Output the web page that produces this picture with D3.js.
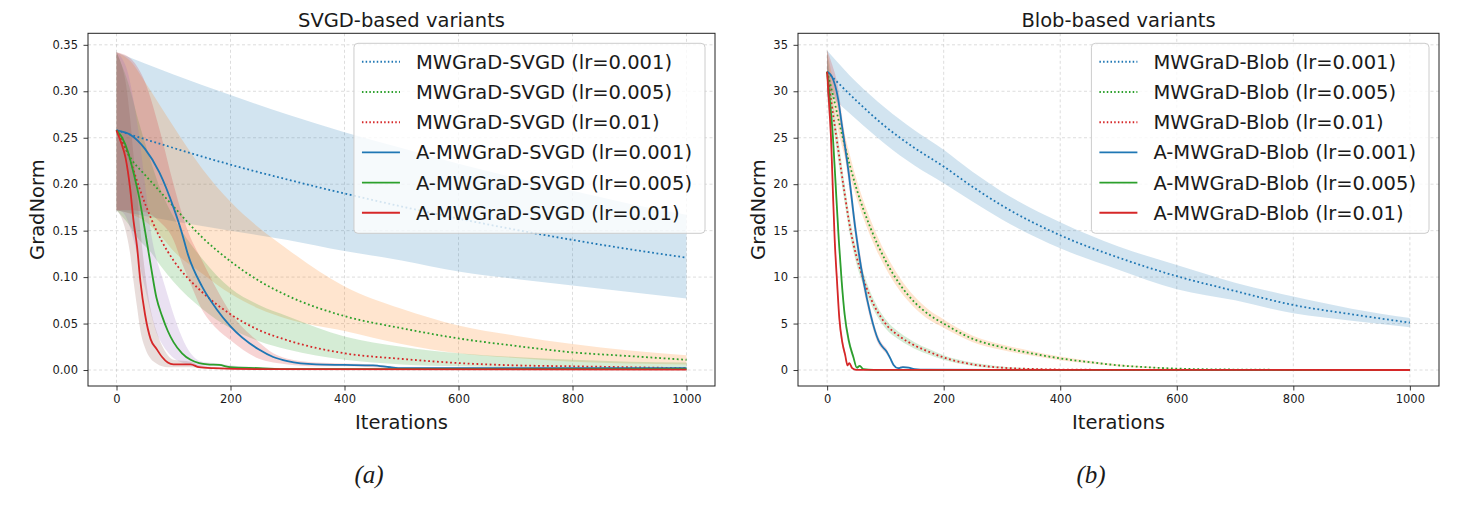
<!DOCTYPE html>
<html>
<head>
<meta charset="utf-8">
<script src="https://cdn.jsdelivr.net/npm/d3@7/dist/d3.min.js"></script>
<style>
body { margin: 0; background: #fff; }
text { font-family: "DejaVu Sans", sans-serif; fill: #1a1a1a; }
</style>
</head>
<body>
<svg id="chart" width="1473" height="515"></svg>
<script>
var iterTicks = [0, 200, 400, 600, 800, 1000];
var svgdTicks = [0, 0.05, 0.10, 0.15, 0.20, 0.25, 0.30, 0.35];
var blobTicks = [0, 5, 10, 15, 20, 25, 30, 35];

var svgdLabels = ["MWGraD-SVGD (lr=0.001)", "MWGraD-SVGD (lr=0.005)", "MWGraD-SVGD (lr=0.01)",
                  "A-MWGraD-SVGD (lr=0.001)", "A-MWGraD-SVGD (lr=0.005)", "A-MWGraD-SVGD (lr=0.01)"];
var blobLabels = ["MWGraD-Blob (lr=0.001)", "MWGraD-Blob (lr=0.005)", "MWGraD-Blob (lr=0.01)",
                  "A-MWGraD-Blob (lr=0.001)", "A-MWGraD-Blob (lr=0.005)", "A-MWGraD-Blob (lr=0.01)"];

// rows: [iteration, mean, lower, upper]
var svgdMW001 = [[0,.258,.172,.342],[100,.239,.160,.318],[200,.221,.150,.296],[300,.205,.140,.275],
    [400,.190,.128,.256],[500,.176,.118,.239],[600,.163,.106,.222],[700,.151,.098,.207],
    [800,.140,.091,.193],[900,.130,.084,.179],[1000,.121,.077,.167]];
var svgdMW005 = [[0,.258,.172,.342],[25,.228,.168,.332],[50,.210,.160,.310],[75,.193,.146,.286],
    [100,.176,.128,.262],[150,.143,.104,.217],[200,.117,.082,.181],[250,.096,.066,.153],
    [300,.080,.055,.130],[400,.058,.042,.090],[500,.045,.028,.066],[600,.034,.018,.048],
    [700,.026,.013,.037],[800,.019,.009,.028],[900,.015,.007,.021],[1000,.011,.006,.016]];
var svgdMW01 = [[0,.258,.172,.342],[20,.233,.158,.310],[40,.196,.140,.265],[60,.164,.127,.225],
    [80,.138,.110,.190],[100,.118,.095,.165],[150,.084,.066,.120],[200,.060,.045,.088],
    [250,.043,.031,.070],[300,.032,.022,.058],[400,.018,.011,.036],[500,.012,.006,.025],
    [600,.0075,.004,.018],[700,.005,.003,.014],[800,.004,.002,.011],[900,.003,.0015,.009],
    [1000,.002,.001,.008]];
var svgdA001 = [[0,.258,.172,.342],[25,.253,.172,.335],[50,.238,.170,.310],[75,.213,.160,.260],
    [100,.175,.140,.200],[115,.147,.115,.168],[125,.125,.100,.150],[150,.090,.065,.118],
    [175,.066,.045,.088],[200,.047,.032,.062],[250,.022,.012,.030],[275,.014,.008,.018],
    [300,.0095,.006,.012],[350,.006,.004,.008],[400,.0055,.004,.007],[450,.005,.003,.006],
    [480,.003,.002,.004],[500,.002,.001,.003],[600,.002,.001,.003],[800,.002,.001,.003],
    [1000,.002,.001,.003]];
var svgdA005 = [[0,.258,.172,.342],[10,.250,.170,.335],[20,.235,.160,.320],[30,.212,.140,.290],
    [40,.185,.115,.250],[50,.150,.088,.200],[60,.113,.062,.150],[70,.078,.040,.120],
    [80,.058,.028,.100],[90,.042,.019,.080],[100,.030,.013,.060],[115,.018,.008,.035],
    [130,.011,.005,.018],[145,.0075,.004,.010],[160,.006,.004,.008],[180,.0055,.004,.007],
    [200,.003,.002,.005],[250,.002,.001,.003],[300,.001,.0005,.002],[1000,.001,.0005,.001]];
var svgdA01 = [[0,.258,.172,.342],[8,.245,.165,.330],[16,.228,.150,.310],[24,.195,.125,.270],
    [30,.160,.095,.230],[36,.133,.068,.190],[42,.095,.042,.150],[50,.060,.024,.105],
    [60,.033,.012,.065],[70,.023,.007,.042],[80,.014,.004,.026],[90,.008,.003,.016],
    [100,.006,.003,.011],[130,.006,.003,.009],[145,.003,.002,.005],[170,.002,.001,.003],
    [250,.001,.0005,.0015],[1000,.0005,.0002,.001]];

var blobMW001 = [[0,32.1,29.8,34.4],[50,29.0,27.0,31.0],[100,26.2,24.3,28.2],[150,23.9,22.0,25.8],
    [200,21.9,20.1,23.7],[250,19.7,18.1,21.3],[300,17.7,16.2,19.2],[400,14.5,13.1,15.9],
    [500,12.1,10.8,13.3],[600,10.1,8.7,11.3],[700,8.5,7.5,9.4],[800,7.0,6.1,7.9],
    [900,6.0,5.3,6.6],[1000,5.1,4.6,5.6]];
var blobMW005 = [[0,32.1,29.8,34.4],[10,29.6,28.0,31.2],[20,26.8,25.4,28.2],[30,24.2,23.0,25.4],
    [40,21.8,20.7,22.9],[50,19.6,18.6,20.6],[75,15.2,14.3,16.1],[100,11.8,11.0,12.6],
    [125,9.2,8.5,9.9],[150,7.3,6.7,7.9],[175,5.95,5.4,6.45],[200,5.0,4.55,5.45],
    [250,3.35,3.0,3.7],[300,2.45,2.15,2.75],[350,1.8,1.55,2.05],[400,1.25,1.05,1.45],
    [450,0.85,0.7,1.0],[500,0.5,0.38,0.62],[550,0.3,0.22,0.38],[600,0.15,0.1,0.2],
    [700,0.05,0.03,0.07],[800,0.02,0.01,0.03],[1000,0.01,0,0.02]];
var blobMW01 = [[0,32.1,29.8,34.4],[10,27.6,26.2,29.0],[20,23.3,22.1,24.5],[30,19.0,18.0,20.0],
    [40,15.1,14.2,16.0],[50,12.3,11.5,13.1],[60,10.2,9.5,10.9],[75,7.7,7.1,8.3],
    [100,5.0,4.5,5.5],[125,3.6,3.2,4.0],[150,2.65,2.3,3.0],[175,1.95,1.65,2.25],
    [200,1.35,1.1,1.6],[250,0.6,0.42,0.8],[300,0.25,0.14,0.38],[350,0.12,0.06,0.18],
    [400,0.05,0.02,0.08],[500,0.02,0.01,0.03],[1000,0.01,0,0.02]];
var blobA001 = [[0,32.1,29.8,34.4],[8,31.6,30.0,33.0],[19,29.1,27.9,30.3],[25,26.5,25.4,27.6],
    [37,21.2,20.1,22.3],[48,15.4,14.4,16.4],[62,9.7,8.9,10.5],[74,6.1,5.5,6.7],
    [88,3.2,2.8,3.6],[95,2.5,2.2,2.8],[102,2.0,1.7,2.3],[108,1.3,1.1,1.5],
    [114,0.55,0.4,0.7],[122,0.2,0.1,0.3],[130,0.32,0.22,0.42],[140,0.25,0.18,0.32],
    [150,0.1,0.05,0.15],[170,0.03,0.01,0.05],[1000,0,0,0.01]];
var blobA005 = [[0,32.1,29.8,34.4],[5,28.8,27.0,30.6],[10,25.0,23.4,26.6],[15,19.5,18.0,21.0],
    [20,14.0,12.7,15.3],[25,9.5,8.5,10.5],[30,6.0,5.2,6.8],[37,3.2,2.7,3.7],
    [45,1.4,1.1,1.7],[51,0.25,0.15,0.35],[56,0.45,0.33,0.57],[62,0.1,0.05,0.16],
    [80,0.02,0.01,0.04],[1000,0,0,0.01]];
var blobA01 = [[0,32.1,29.8,34.4],[3,29.0,27.2,30.8],[7,24.5,23.0,26.0],[10,19.0,17.6,20.4],
    [13,14.0,12.8,15.2],[17,9.5,8.5,10.5],[21,5.5,4.8,6.2],[26,3.0,2.5,3.5],
    [31,1.6,1.3,1.9],[35,0.5,0.35,0.65],[38,0.75,0.6,0.9],[43,0.2,0.1,0.3],
    [50,0.02,0,0.05],[1000,0,0,0.01]];

var lineColors = ["#1f77b4", "#2ca02c", "#d62728", "#1f77b4", "#2ca02c", "#d62728"];
var bandColors = ["#1f77b4", "#ff7f0e", "#2ca02c", "#d62728", "#9467bd", "#8c564b"];
var dottedStyle = [true, true, true, false, false, false];

var svg = d3.select("#chart");

drawPanel({
    id: "a", left: 88, right: 715, top: 33.3, bottom: 386,
    yDomain: [-0.0172, 0.3624], yTicks: svgdTicks, yFormat: d3.format(".2f"),
    title: "SVGD-based variants", ylabelX: 44,
    series: [svgdMW001, svgdMW005, svgdMW01, svgdA001, svgdA005, svgdA01],
    labels: svgdLabels, caption: "(a)", captionX: 369
});
drawPanel({
    id: "b", left: 798, right: 1439, top: 33.3, bottom: 386,
    yDomain: [-1.72, 36.24], yTicks: blobTicks, yFormat: d3.format("d"),
    title: "Blob-based variants", ylabelX: 764.5,
    series: [blobMW001, blobMW005, blobMW01, blobA001, blobA005, blobA01],
    labels: blobLabels, caption: "(b)", captionX: 1091
});

function drawPanel(p) {
    var x = d3.scaleLinear().domain([-50, 1050]).range([p.left, p.right]);
    var y = d3.scaleLinear().domain(p.yDomain).range([p.bottom, p.top]);
    var g = svg.append("g");
    var midX = (p.left + p.right) / 2;

    g.append("clipPath").attr("id", "clip-" + p.id)
        .append("rect")
        .attr("x", p.left).attr("y", p.top)
        .attr("width", p.right - p.left).attr("height", p.bottom - p.top);

    // grid
    g.selectAll(".gx").data(iterTicks).enter().append("line")
        .attr("x1", function(d) { return x(d); }).attr("x2", function(d) { return x(d); })
        .attr("y1", p.top).attr("y2", p.bottom)
        .style("stroke", "#b0b0b0").style("stroke-opacity", 0.55)
        .style("stroke-width", 0.8).style("stroke-dasharray", "3,2.5");
    g.selectAll(".gy").data(p.yTicks).enter().append("line")
        .attr("x1", p.left).attr("x2", p.right)
        .attr("y1", function(d) { return y(d); }).attr("y2", function(d) { return y(d); })
        .style("stroke", "#b0b0b0").style("stroke-opacity", 0.55)
        .style("stroke-width", 0.8).style("stroke-dasharray", "3,2.5");

    var plot = g.append("g").attr("clip-path", "url(#clip-" + p.id + ")");

    var area = d3.area()
        .x(function(d) { return x(d[0]); })
        .y0(function(d) { return y(d[2]); })
        .y1(function(d) { return y(d[3]); })
        .curve(d3.curveMonotoneX);
    var line = d3.line()
        .x(function(d) { return x(d[0]); })
        .y(function(d) { return y(d[1]); })
        .curve(d3.curveMonotoneX);

    plot.selectAll(".band").data(p.series).enter().append("path")
        .attr("d", area)
        .style("fill", function(d, i) { return bandColors[i]; })
        .style("fill-opacity", 0.2)
        .style("stroke", "none");

    plot.selectAll(".curve").data(p.series).enter().append("path")
        .attr("d", line)
        .style("fill", "none")
        .style("stroke", function(d, i) { return lineColors[i]; })
        .style("stroke-width", 1.8)
        .style("stroke-dasharray", function(d, i) { return dottedStyle[i] ? "1.8,2.6" : null; });

    // axes
    var xAxis = g.append("g")
        .attr("transform", "translate(0," + p.bottom + ")")
        .call(d3.axisBottom(x).tickValues(iterTicks).tickFormat(d3.format("d")).tickSize(4.5).tickPadding(4.5));
    var yAxis = g.append("g")
        .attr("transform", "translate(" + p.left + ",0)")
        .call(d3.axisLeft(y).tickValues(p.yTicks).tickFormat(p.yFormat).tickSize(4.5).tickPadding(5.5));
    [xAxis, yAxis].forEach(function(a) {
        a.select(".domain").remove();
        a.selectAll("text").style("font-family", "DejaVu Sans").style("font-size", "11.5px").style("fill", "#1a1a1a");
        a.selectAll("line").style("stroke", "#222").style("stroke-width", 0.9);
    });

    g.append("rect")
        .attr("x", p.left).attr("y", p.top)
        .attr("width", p.right - p.left).attr("height", p.bottom - p.top)
        .style("fill", "none").style("stroke", "#222").style("stroke-width", 1);

    // legend
    var lg = g.append("g");
    var legendTop = p.top + 10;
    var rows = lg.selectAll(".row").data(p.labels).enter().append("g")
        .attr("transform", function(d, i) { return "translate(0," + (legendTop + 18.5 + i * 30.2) + ")"; });
    var frame = lg.insert("rect", ":first-child");
    rows.append("line")
        .attr("x1", 8).attr("x2", 46).attr("y1", 0).attr("y2", 0)
        .style("stroke", function(d, i) { return lineColors[i]; })
        .style("stroke-width", 1.9)
        .style("stroke-dasharray", function(d, i) { return dottedStyle[i] ? "1.5,2.2" : null; });
    var texts = rows.append("text")
        .attr("x", 62).attr("dy", "0.36em")
        .style("font-size", "19.5px")
        .text(function(d) { return d; });
    var maxW = 0;
    texts.each(function() { maxW = Math.max(maxW, this.getComputedTextLength()); });
    var boxW = 62 + maxW + 13;
    var boxH = 190;
    frame.attr("x", 0).attr("y", legendTop).attr("width", boxW).attr("height", boxH)
        .attr("rx", 4).attr("ry", 4)
        .style("fill", "#fff").style("fill-opacity", 0.8)
        .style("stroke", "#cccccc").style("stroke-width", 1);
    lg.attr("transform", "translate(" + (p.right - 10 - boxW) + ",0)");

    // labels
    g.append("text")
        .attr("x", midX).attr("y", 26.5)
        .style("text-anchor", "middle").style("font-size", "19.5px")
        .text(p.title);
    g.append("text")
        .attr("x", midX).attr("y", 429)
        .style("text-anchor", "middle").style("font-size", "19.5px")
        .text("Iterations");
    g.append("text")
        .attr("transform", "translate(" + p.ylabelX + "," + ((p.top + p.bottom) / 2) + ") rotate(-90)")
        .style("text-anchor", "middle").style("font-size", "19.5px")
        .text("GradNorm");
    g.append("text")
        .attr("x", p.captionX).attr("y", 483)
        .style("text-anchor", "middle")
        .style("font-family", "'Liberation Serif', serif")
        .style("font-style", "italic")
        .style("font-size", "25px")
        .text(p.caption);
}
</script>
</body>
</html>
